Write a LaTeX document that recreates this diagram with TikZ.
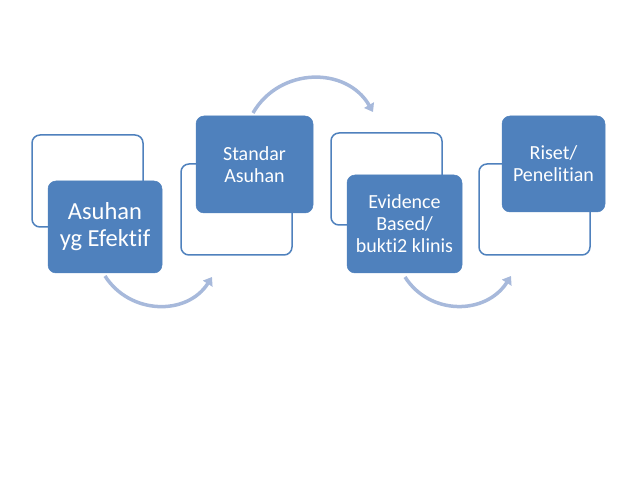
\documentclass[tikz,border=0pt]{standalone}
\usepackage{fontspec}
\setmainfont{Carlito}[Ligatures={NoCommon,NoRare,NoContextual}]
\usetikzlibrary{arrows.meta}
\definecolor{boxblue}{RGB}{79,129,189}
\definecolor{arcblue}{RGB}{167,185,219}
\tikzset{
  outlinebox/.style={draw=boxblue, line width=1.5pt, fill=white, rounded corners=8pt, inner sep=0pt},
  fillbox/.style={fill=boxblue, draw=boxblue, line width=0.5pt, rounded corners=8pt, inner sep=0pt, text=white, align=center},
  bigtext/.style={font=\fontsize{24.5}{27}\selectfont},
  smalltext/.style={font=\fontsize{20}{22}\selectfont},
  arcarrow/.style={draw=arcblue, line width=3.5pt, -{Triangle[width=11pt,length=8pt]}},
}
\begin{document}
\begin{tikzpicture}[x=1pt,y=-1pt]
\useasboundingbox (0,0) rectangle (638,478);
% outline boxes (behind)
\node[outlinebox, minimum width=111pt, minimum height=92pt] (o1) at (87.5,181) {};
\node[outlinebox, minimum width=111pt, minimum height=91pt] (o2) at (236.5,209.5) {};
\node[outlinebox, minimum width=111pt, minimum height=92pt] (o3) at (386.5,179) {};
\node[outlinebox, minimum width=111pt, minimum height=91pt] (o4) at (534.5,209.5) {};
% filled boxes
\node[fillbox, bigtext, minimum width=114pt, minimum height=92pt] (b1) at (105,227) {Asuhan\\yg Efektif};
\node[fillbox, smalltext, minimum width=117pt, minimum height=97pt] (b2) at (254.5,164.5) {Standar\\Asuhan};
\node[fillbox, smalltext, minimum width=115pt, minimum height=98pt] (b3) at (404.5,224) {Evidence\\Based/\\bukti2 klinis};
\node[fillbox, smalltext, minimum width=103pt, minimum height=96pt] (b4) at (553.5,164) {Riset/\\Penelitian};
% arc end points
\coordinate (s1) at (105,276);
\coordinate (e1) at (212,277);
\coordinate (s2) at (253,113);
\coordinate (e2) at (373,112);
\coordinate (s3) at (405,277);
\coordinate (e3) at (511,276);
\draw[arcarrow] (s1) .. controls (130,315) and (187,316) .. (e1);
\draw[arcarrow] (s2) .. controls (279.5,67) and (346.5,66) .. (e2);
\draw[arcarrow] (s3) .. controls (430,316) and (486,315) .. (e3);
\end{tikzpicture}
\end{document}
